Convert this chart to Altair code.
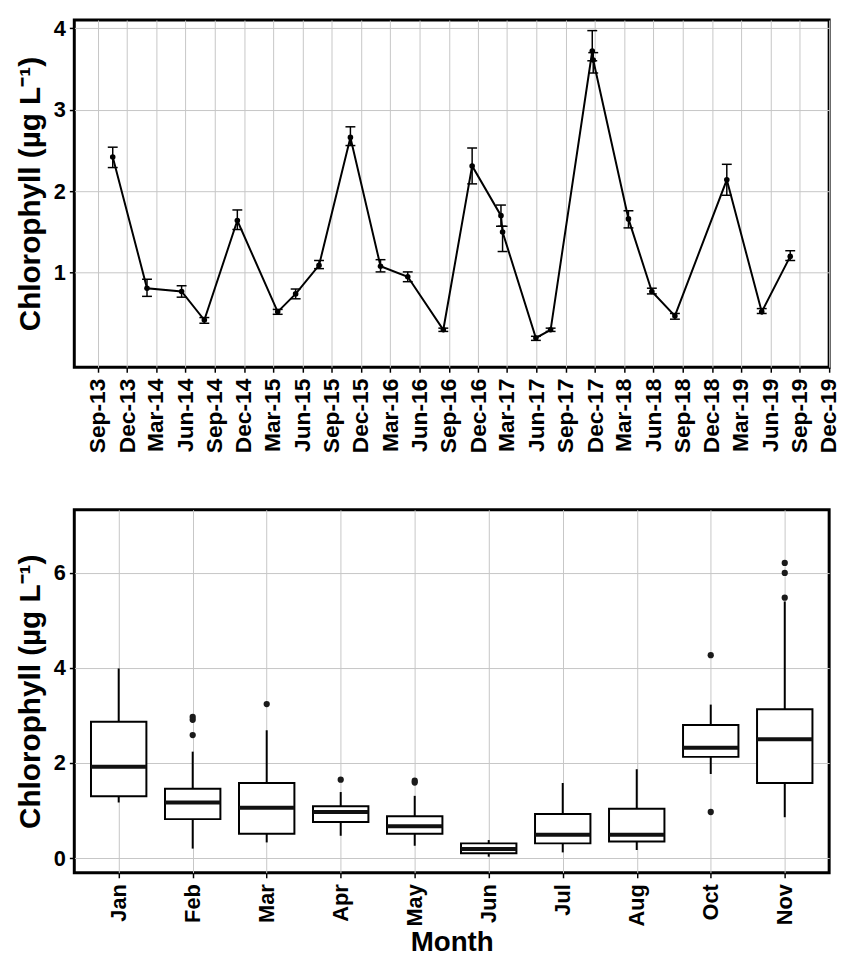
import altair as alt
import pandas as pd

FONT = "Liberation Sans"

# ---------------- Top panel: chlorophyll time series (mean +/- error) ----------------
sample_dates = [
    "2013-10-17", "2014-02-01", "2014-05-20", "2014-07-30", "2014-11-10",
    "2015-03-16", "2015-05-11", "2015-07-23", "2015-10-29", "2016-01-31",
    "2016-04-25", "2016-08-14", "2016-11-12", "2017-02-10", "2017-02-15",
    "2017-05-30", "2017-07-15", "2017-11-22", "2017-11-25", "2018-03-15",
    "2018-05-27", "2018-08-07", "2019-01-16", "2019-05-05", "2019-08-02",
]
chl_mean = [2.42, 0.81, 0.77, 0.42, 1.64, 0.52, 0.74, 1.09, 2.66, 1.08,
            0.95, 0.30, 2.31, 1.70, 1.50, 0.20, 0.30, 3.72, 3.61, 1.66,
            0.77, 0.47, 2.14, 0.52, 1.20]
chl_hi = [2.54, 0.92, 0.84, 0.45, 1.77, 0.55, 0.80, 1.15, 2.79, 1.16,
          1.01, 0.32, 2.53, 1.83, 1.57, 0.22, 0.32, 3.97, 3.70, 1.76,
          0.81, 0.50, 2.33, 0.56, 1.27]
chl_lo = [2.29, 0.71, 0.70, 0.38, 1.53, 0.49, 0.68, 1.05, 2.56, 1.01,
          0.89, 0.28, 2.09, 1.57, 1.26, 0.17, 0.28, 3.60, 3.45, 1.55,
          0.74, 0.43, 1.95, 0.50, 1.15]

# quarterly tick positions (year, month) -> labels "Sep-13" ... "Dec-19"
tick_years = [2013, 2013, 2014, 2014, 2014, 2014, 2015, 2015, 2015, 2015,
              2016, 2016, 2016, 2016, 2017, 2017, 2017, 2017, 2018, 2018,
              2018, 2018, 2019, 2019, 2019, 2019]
tick_months = [9, 12, 3, 6, 9, 12, 3, 6, 9, 12, 3, 6, 9, 12, 3, 6, 9, 12,
               3, 6, 9, 12, 3, 6, 9, 12]

# ---------------- Bottom panel: monthly boxplots ----------------
months = ["Jan", "Feb", "Mar", "Apr", "May", "Jun", "Jul", "Aug", "Oct", "Nov"]
box_q1 = [1.30, 0.82, 0.51, 0.76, 0.51, 0.10, 0.31, 0.35, 2.13, 1.58]
box_med = [1.92, 1.17, 1.06, 0.97, 0.67, 0.19, 0.49, 0.49, 2.32, 2.50]
box_q3 = [2.87, 1.46, 1.58, 1.09, 0.88, 0.31, 0.93, 1.04, 2.80, 3.13]
whisk_lo = [1.17, 0.20, 0.33, 0.47, 0.26, 0.03, 0.12, 0.17, 1.77, 0.86]
whisk_hi = [3.99, 2.24, 2.69, 1.39, 1.31, 0.38, 1.58, 1.87, 3.23, 5.40]
outlier_month = ["Feb", "Feb", "Feb", "Mar", "Apr", "May", "May", "Oct", "Oct",
                 "Nov", "Nov", "Nov"]
outlier_value = [2.97, 2.91, 2.59, 3.24, 1.65, 1.63, 1.59, 4.27, 0.97,
                 5.48, 6.00, 6.21]

Y_TITLE = "Chlorophyll (µg L⁻¹)"
GRID = "#c6c6c6"
W = 763

ts = pd.DataFrame({"date": sample_dates, "mean": chl_mean, "hi": chl_hi, "lo": chl_lo})
box = pd.DataFrame({"month": months, "q1": box_q1, "med": box_med, "q3": box_q3,
                    "lo": whisk_lo, "hi": whisk_hi})
outl = pd.DataFrame({"month": outlier_month, "value": outlier_value})

tick_vals = [alt.DateTime(year=y, month=m, date=1, utc=True)
             for y, m in zip(tick_years, tick_months)]

xscale = alt.Scale(type="utc", domain=[
    alt.DateTime(year=2013, month=6, date=19, utc=True),
    alt.DateTime(year=2019, month=12, date=1, hours=12, utc=True)])

xaxis_top = alt.Axis(values=tick_vals,
                     labelExpr="utcFormat(datum.value, '%b-%y')",
                     labelAngle=-90, labelFontSize=23, labelFont=FONT,
                     labelFontWeight="bold", labelColor="black",
                     labelPadding=6, labelOverlap=False, labelFlush=False,
                     labelBound=False,
                     tickColor="black", tickSize=5, tickWidth=1.5,
                     grid=True, gridColor=GRID, gridWidth=1, domain=False,
                     title=None)

def yaxis(vals):
    return alt.Axis(values=vals, format="d", title=Y_TITLE, titleFontSize=30,
                    titleFont=FONT, titleFontWeight="bold", titleColor="black",
                    titlePadding=8,
                    labelFontSize=22, labelFont=FONT, labelFontWeight="bold",
                    labelColor="black", labelPadding=4,
                    tickColor="black", tickSize=5, tickWidth=1.5,
                    grid=True, gridColor=GRID, gridWidth=1, domain=False)

yscale_top = alt.Scale(domain=[-0.16, 4.10], nice=False, zero=False)
X = alt.X("date:T", scale=xscale, axis=xaxis_top)

line = alt.Chart(ts).mark_line(color="black", strokeWidth=2).encode(
    x=X, y=alt.Y("mean:Q", scale=yscale_top, axis=yaxis([1, 2, 3, 4])))
err = alt.Chart(ts).mark_rule(color="black", strokeWidth=1.5).encode(
    x=X, y=alt.Y("lo:Q", scale=yscale_top), y2="hi:Q")
cap_hi = alt.Chart(ts).mark_tick(color="black", orient="horizontal", size=10,
                                 thickness=1.5, opacity=1).encode(
    x=X, y=alt.Y("hi:Q", scale=yscale_top))
cap_lo = alt.Chart(ts).mark_tick(color="black", orient="horizontal", size=10,
                                 thickness=1.5, opacity=1).encode(
    x=X, y=alt.Y("lo:Q", scale=yscale_top))
pts = alt.Chart(ts).mark_circle(color="black", size=32, opacity=1).encode(
    x=X, y=alt.Y("mean:Q", scale=yscale_top))

top = alt.layer(line, err, cap_hi, cap_lo, pts).properties(width=W, height=351)

# bottom
xscale_b = alt.Scale(type="point", domain=months, padding=0.6)
xaxis_b = alt.Axis(title="Month", titleFontSize=28, titleFont=FONT,
                   titleFontWeight="bold", titleColor="black", titlePadding=3,
                   labelAngle=-90, labelFontSize=22, labelFont=FONT,
                   labelFontWeight="bold", labelColor="black", labelPadding=6,
                   tickColor="black", tickSize=5, tickWidth=1.5,
                   grid=True, gridColor=GRID, gridWidth=1, domain=False)
XB = alt.X("month:N", scale=xscale_b, axis=xaxis_b, sort=months)
yscale_b = alt.Scale(domain=[-0.31, 7.33], nice=False, zero=False)

whisk = alt.Chart(box).mark_rule(color="black", strokeWidth=2).encode(
    x=XB, y=alt.Y("lo:Q", scale=yscale_b, axis=yaxis([0, 2, 4, 6])), y2="hi:Q")
boxes = alt.Chart(box).mark_bar(size=56, fill="white", stroke="black",
                                strokeWidth=2).encode(
    x=XB, y=alt.Y("q1:Q", scale=yscale_b), y2="q3:Q")
meds = alt.Chart(box).mark_tick(color="#111111", orient="horizontal", size=56,
                                thickness=4, opacity=1).encode(
    x=XB, y=alt.Y("med:Q", scale=yscale_b))
outs = alt.Chart(outl).mark_circle(color="#1a1a1a", size=40, opacity=1).encode(
    x=XB, y=alt.Y("value:Q", scale=yscale_b))

bottom = alt.layer(whisk, boxes, meds, outs).properties(width=W, height=367)

chart = alt.vconcat(top, bottom, spacing=54).properties(
    padding={"left": 6, "top": 2, "right": 0, "bottom": 0},
    background="white",
).configure_view(stroke="black", strokeWidth=3)

chart.save("out.html", embed_options={"renderer": "svg", "actions": False})
